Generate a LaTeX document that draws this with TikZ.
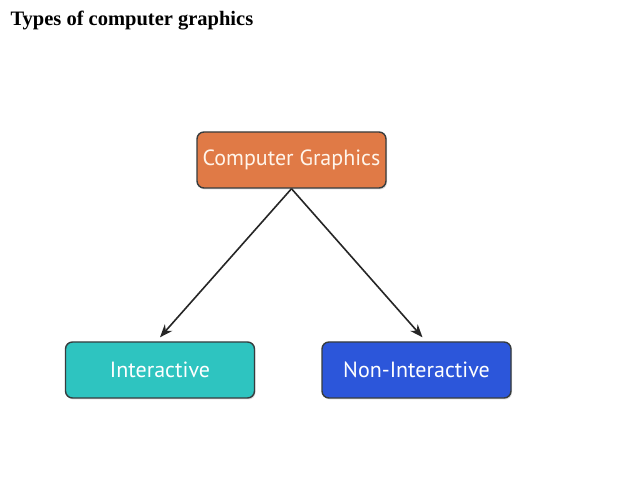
\documentclass[tikz,border=0pt]{standalone}
\usepackage{fontspec}
\setmainfont{Liberation Serif}
\newfontfamily\boxfont{PT Sans}
\usepackage{tikz}
\usetikzlibrary{shadows,arrows.meta}

\definecolor{cgorange}{RGB}{224,122,70}
\definecolor{itteal}{RGB}{46,196,192}
\definecolor{niblue}{RGB}{44,86,218}
\definecolor{rimgray}{RGB}{55,60,62}

\tikzset{
  typebox/.style={draw=rimgray, line width=1.4pt, rounded corners=7pt,
    minimum width=189pt, minimum height=56pt, inner sep=0pt,
    text=white, font=\boxfont\fontsize{22}{26}\selectfont,
    drop shadow={shadow xshift=1pt, shadow yshift=-1.5pt, opacity=.25}},
  typearrow/.style={-{Stealth[length=13pt,width=10pt]}, line width=1.6pt, draw=black!85}
}

\begin{document}
\begin{tikzpicture}[x=1pt, y=-1pt]
  \useasboundingbox (0,0) rectangle (638,478);
  \fill[white] (0,0) rectangle (638,478);

  \node[anchor=west, font=\bfseries\fontsize{20.5}{24}\selectfont] (title) at (7,21) {Types of computer graphics};

  \node[typebox, fill=cgorange, text=orange!8] (cg) at (291.5,160) {Computer Graphics};
  \node[typebox, fill=itteal] (inter) at (160,370) {Interactive};
  \node[typebox, fill=niblue] (noninter) at (416.5,370) {Non-Interactive};

  \draw[typearrow] (cg.south) -- ([yshift=4pt]inter.north);
  \draw[typearrow] (cg.south) -- ([xshift=6pt,yshift=4pt]noninter.north);
\end{tikzpicture}
\end{document}
